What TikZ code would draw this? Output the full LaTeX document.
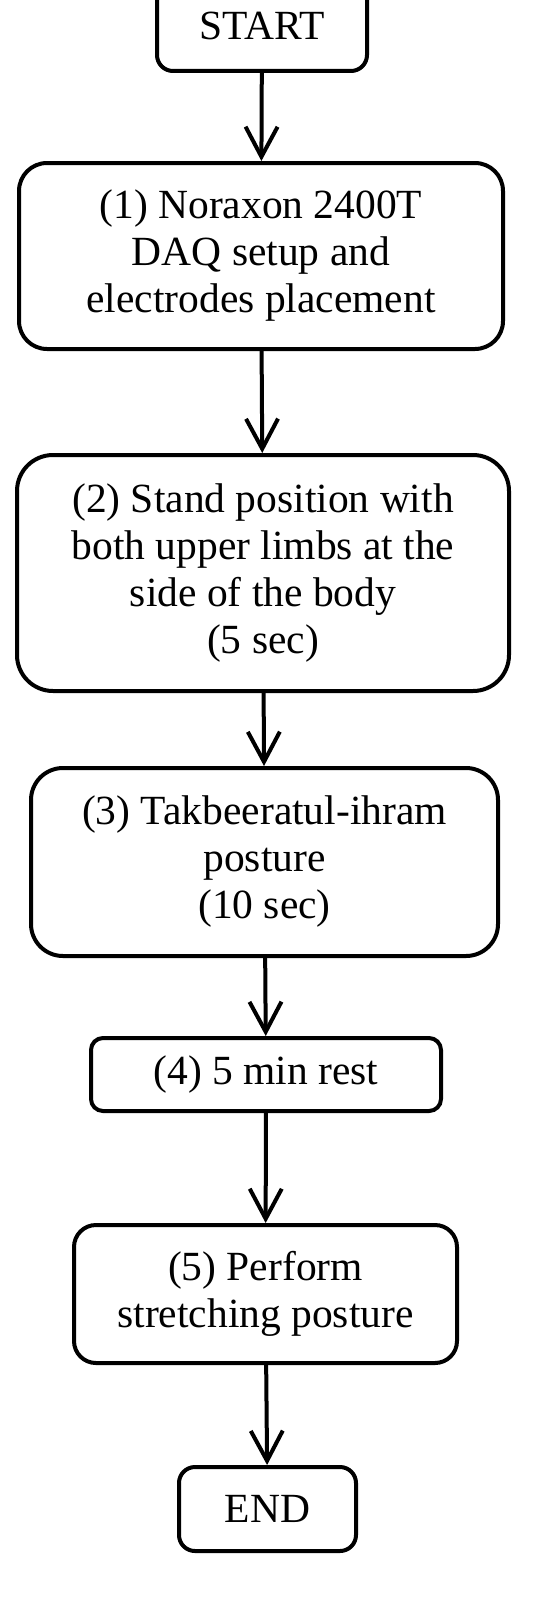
\documentclass[tikz,border=0pt]{standalone}
\usepackage{fontspec}
\setmainfont{Liberation Serif}
\usepackage{tikz}
\usetikzlibrary{arrows.meta}
\usetikzlibrary{positioning}

\begin{document}
\begin{tikzpicture}[x=1pt,y=1pt,
                    nodes={font=\fontsize{41.5}{47}\selectfont, align=center, inner sep=0pt},
                    box/.style={draw, line width=4pt, rounded corners=#1},
                    box/.default=28pt,
                    flow/.style={line width=4pt, -{Straight Barb[length=30pt,width=32pt]}}]
 \useasboundingbox (0,0) rectangle (556,-1611);
 \node[box=16pt, minimum width=210pt, minimum height=90pt] (start) at (262,-26) {START};
 \node[box, minimum width=484pt, minimum height=186pt, below=88pt of start, xshift=-1pt] (daq)
   {(1) Noraxon 2400T\\ DAQ setup and\\ electrodes placement};
 \node[box=36pt, minimum width=492pt, minimum height=236pt, below=102pt of daq, xshift=2pt] (stand)
   {(2) Stand position with\\ both upper limbs at the\\ side of the body\\ (5 sec)};
 \node[box=32pt, minimum width=467pt, minimum height=188pt, below=73pt of stand, xshift=1.5pt] (takbir)
   {(3) Takbeeratul-ihram\\ posture\\ (10 sec)};
 \node[box=12pt, minimum width=350pt, minimum height=73pt, below=78pt of takbir, xshift=1.5pt] (rest)
   {(4) 5 min rest};
 \node[box=22pt, minimum width=383pt, minimum height=138pt, below=110pt of rest, xshift=-0.5pt] (stretch)
   {(5) Perform\\ stretching posture};
 \node[box=16pt, minimum width=177pt, minimum height=84pt, below=100pt of stretch, xshift=2pt] (end)
   {END};
 % arrows
 \draw[flow] (start) -- (daq);
 \draw[flow] (daq) -- (stand);
 \draw[flow] (stand) -- (takbir);
 \draw[flow] (takbir) -- (rest);
 \draw[flow] (rest) -- (stretch);
 \draw[flow] (stretch) -- (end);
\end{tikzpicture}
\end{document}
